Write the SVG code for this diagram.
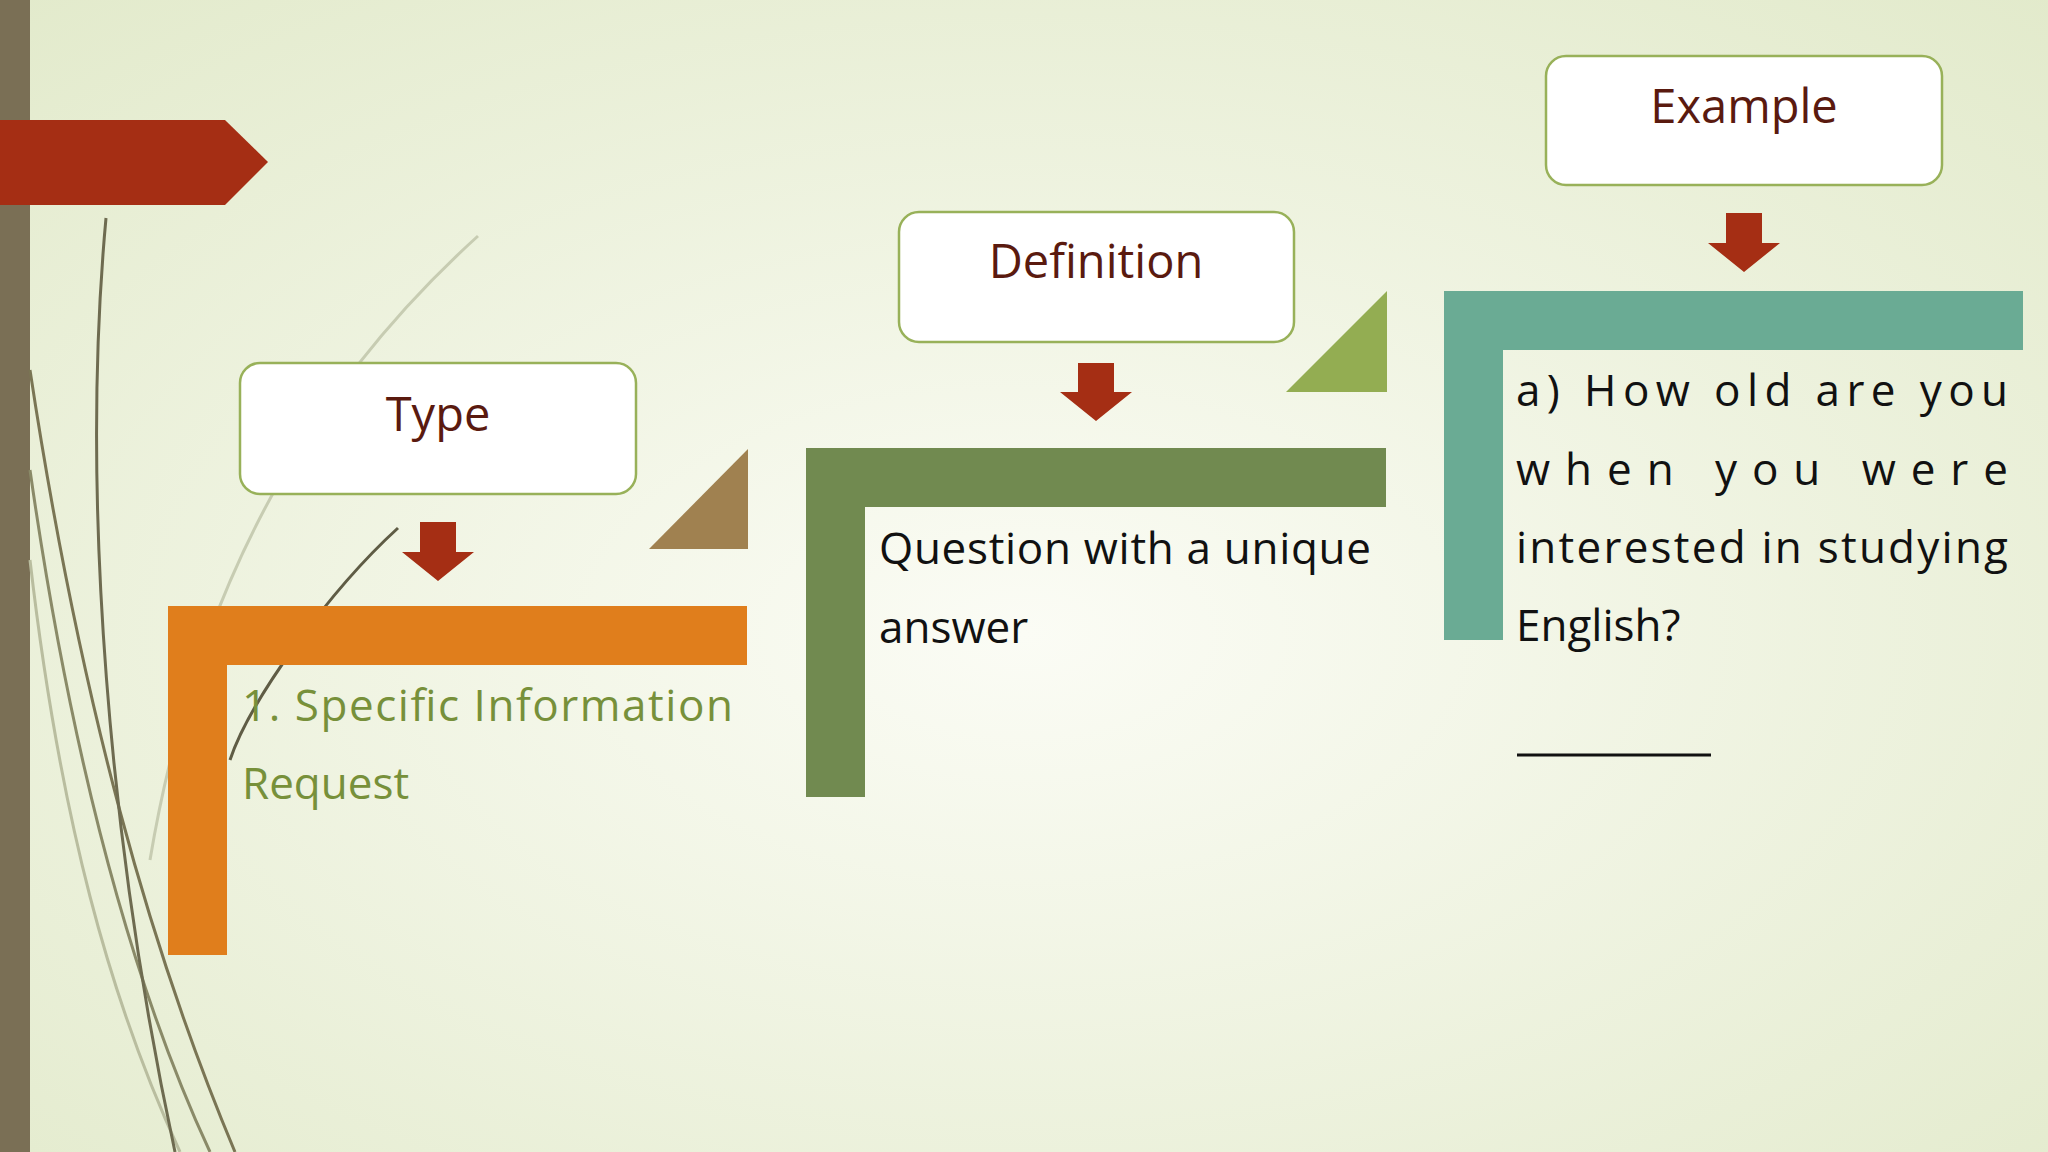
<svg xmlns="http://www.w3.org/2000/svg" width="2048" height="1152" viewBox="0 0 2048 1152">
<defs>
<radialGradient id="bg" cx="0.5" cy="0.55" r="0.75">
<stop offset="0" stop-color="#fbfcf5"/><stop offset="1" stop-color="#e2eacb"/>
</radialGradient>
<style>
.box{fill:#fff;stroke:#98b159;stroke-width:2.5}
.ttl{font-family:"Open Sans","Noto Sans",sans-serif;font-size:47px;fill:#5a1a0f;text-anchor:middle}
.arr{fill:#a52e14}
.body{font-family:"Open Sans","Noto Sans",sans-serif;font-size:44px}
.curve{fill:none;stroke-width:3}
</style>
</defs>
<rect width="2048" height="1152" fill="url(#bg)"/>
<g id="decor">
<rect x="0" y="0" width="30" height="1152" fill="#7a6f55"/>
<path class="curve" stroke="#7a7554" d="M30 370 C80 700 150 950 235 1152"/>
<path class="curve" stroke="#8a8a68" d="M30 470 C70 750 130 980 210 1152"/>
<path class="curve" stroke="#b9bd9f" d="M30 560 C60 820 110 1000 180 1152"/>
<path class="curve" stroke="#6e6b50" stroke-width="2" d="M106 218 C80 500 110 850 175 1152"/>
<path class="curve" stroke="#c7ccb2" stroke-width="2" d="M478 236 C330 370 200 560 150 860"/>
<path class="curve" stroke="#5f5c45" stroke-width="2" d="M398 528 C330 590 250 700 230 760"/>
<polygon points="0,120 225,120 268,162 225,205 0,205" fill="#a52e14"/>
</g>
<g id="type">
<rect class="box" x="240" y="363" width="396" height="131" rx="20"/>
<text class="ttl" x="438" y="431">Type</text>
<polygon class="arr" points="420,522 456,522 456,552 474,552 438,581 402,552 420,552"/>
<path d="M168 606 H747 V665 H227 V955 H168 Z" fill="#e07e1c"/>
<polygon points="649,549 748,449 748,549" fill="#a08150"/>
<text class="body" fill="#77903a" x="242" y="721" textLength="491" lengthAdjust="spacing">1.  Specific  Information</text>
<text class="body" fill="#77903a" x="242" y="799">Request</text>
</g>
<g id="definition">
<rect class="box" x="899" y="212" width="395" height="130" rx="20"/>
<text class="ttl" x="1096" y="278">Definition</text>
<polygon class="arr" points="1078,363 1114,363 1114,392 1132,392 1096,421 1060,392 1078,392"/>
<path d="M806 448 H1386 V507 H865 V797 H806 Z" fill="#718a50"/>
<polygon points="1286,392 1387,291 1387,392" fill="#93ad52"/>
<text class="body" fill="#111" x="879" y="564" textLength="492" lengthAdjust="spacing">Question with a unique</text>
<text class="body" fill="#111" x="879" y="643">answer</text>
</g>
<g id="example">
<rect class="box" x="1546" y="56" width="396" height="129" rx="20"/>
<text class="ttl" x="1744" y="123">Example</text>
<polygon class="arr" points="1726,213 1762,213 1762,243 1780,243 1744,272 1708,243 1726,243"/>
<path d="M1444 291 H2023 V350 H1503 V640 H1444 Z" fill="#6aab94"/>
<g class="body" fill="#111">
<text x="1516" y="406" textLength="492" lengthAdjust="spacing">a)  How  old  are  you</text>
<text x="1516" y="485" textLength="492" lengthAdjust="spacing">when   you   were</text>
<text x="1516" y="563" textLength="492" lengthAdjust="spacing">interested  in  studying</text>
<text x="1516" y="641">English?</text>
</g>
<line x1="1517" y1="755" x2="1711" y2="755" stroke="#111" stroke-width="3"/>
</g>
<g id="connectors"></g>
</svg>
